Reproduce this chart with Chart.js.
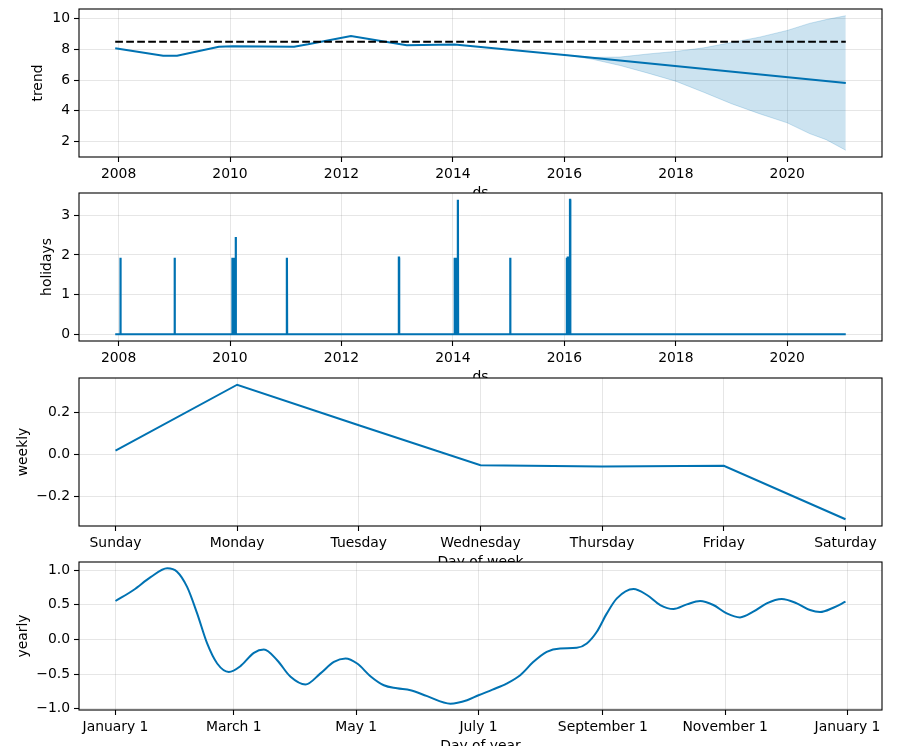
<!DOCTYPE html>
<html>
<head>
<meta charset="utf-8">
<script src="https://cdn.jsdelivr.net/npm/chart.js@4.4.1/dist/chart.umd.min.js"></script>
<style>
  html, body { margin: 0; padding: 0; background: #fff; }
  body { width: 900px; height: 746px; position: relative; overflow: hidden; }
  canvas { position: absolute; left: 0; }
</style>
</head>
<body>
<canvas id="trendChart" width="900" height="206" style="top:0px"></canvas>
<canvas id="holidaysChart" width="900" height="206" style="top:184px"></canvas>
<canvas id="weeklyChart" width="900" height="206" style="top:369px"></canvas>
<canvas id="yearlyChart" width="900" height="206" style="top:553px"></canvas>
<script>
// ---- trend (x in decimal years) ----
const trendYears  = [2007.94, 2008.8, 2009.05, 2009.8, 2010.05, 2011.15, 2011.4, 2012.17, 2013.17, 2014.03, 2016.05, 2021.05];
const trendValues = [8.08, 7.58, 7.58, 8.17, 8.2, 8.18, 8.33, 8.87, 8.27, 8.32, 7.62, 5.8];
const capYears  = [2007.94, 2021.05];
const capValues = [8.5, 8.5];
const bandYears = [2016.05, 2016.5, 2017.0, 2017.5, 2018.0, 2018.5, 2019.0, 2019.5, 2020.0, 2020.4, 2020.7, 2021.05];
const bandUpper = [7.62, 7.48, 7.5, 7.7, 7.87, 8.1, 8.45, 8.8, 9.24, 9.7, 9.95, 10.2];
const bandLower = [7.62, 7.36, 6.95, 6.45, 5.92, 5.2, 4.45, 3.8, 3.2, 2.5, 2.1, 1.41];
const yearTicks  = [2008, 2010, 2012, 2014, 2016, 2018, 2020];
const yearLabels = ['2008', '2010', '2012', '2014', '2016', '2018', '2020'];
const trendYTicks  = [2, 4, 6, 8, 10];
const trendYLabels = ['2', '4', '6', '8', '10'];

// ---- holidays ----
const holidayDates   = ['2008-01-13', '2009-01-03', '2010-01-16', '2010-01-24', '2010-02-07', '2011-01-08', '2013-01-12',
                        '2014-01-12', '2014-01-19', '2014-02-02', '2015-01-11', '2016-01-17', '2016-01-24', '2016-02-07'];
const holidayEffects = [1.93, 1.93, 1.93, 1.93, 2.45, 1.93, 1.93, 1.93, 1.93, 3.39, 1.93, 1.93, 1.93, 3.39];
const holidaySpan = [2007.94, 2021.05];
const holidayYTicks  = [0, 1, 2, 3];
const holidayYLabels = ['0', '1', '2', '3'];

// ---- weekly ----
const weekDays     = ['Sunday', 'Monday', 'Tuesday', 'Wednesday', 'Thursday', 'Friday', 'Saturday'];
const weeklyValues = [0.02, 0.333, 0.14, -0.05, -0.056, -0.053, -0.307];
const weeklyYTicks  = [-0.2, 0, 0.2];
const weeklyYLabels = ['\u22120.2', '0.0', '0.2'];

// ---- yearly (x = day of year) ----
const yearDays = [0, 9, 17.5, 25.8, 30.7, 35.7, 40.7, 45.7, 50.7, 56.5, 62.3, 69, 74, 80.6, 87.3, 94.7, 102.2, 108.9,
                  114.7, 120.5, 127.1, 133.8, 140.4, 147.1, 155.4, 167, 175.3, 181, 188, 195, 201.8, 208.4, 215,
                  221.7, 230, 235, 240, 245, 250, 258.3, 265, 271.6, 278.2, 284.9, 291.5, 298.1, 304.8, 311.4,
                  318, 324.7, 332.2, 339.7, 346.3, 351.3, 357.9, 364];
const yearlyValues = [0.556, 0.715, 0.9, 1.03, 0.98, 0.76, 0.377, -0.058, -0.348, -0.47, -0.386, -0.193, -0.145, -0.3,
                      -0.54, -0.652, -0.49, -0.324, -0.275, -0.348, -0.531, -0.662, -0.705, -0.734, -0.82, -0.928,
                      -0.879, -0.807, -0.725, -0.638, -0.517, -0.324, -0.179, -0.13, -0.121, -0.058, 0.111, 0.377,
                      0.594, 0.729, 0.643, 0.498, 0.44, 0.507, 0.556, 0.498, 0.377, 0.319, 0.401, 0.522, 0.585,
                      0.522, 0.425, 0.396, 0.459, 0.546];
const monthTicks  = [0, 59, 120, 181, 243, 304, 365];
const monthLabels = ['January 1', 'March 1', 'May 1', 'July 1', 'September 1', 'November 1', 'January 1'];
const yearlyYTicks  = [-1, -0.5, 0, 0.5, 1];
const yearlyYLabels = ['\u22121.0', '\u22120.5', '0.0', '0.5', '1.0'];

const BLUE = '#0072B2';
const BAND = 'rgba(0,114,178,0.2)';

Chart.defaults.font.family = "'DejaVu Sans', sans-serif";
Chart.defaults.font.size = 13.9;
Chart.defaults.color = '#000';

function decYear(s) {
  const d = Date.parse(s + 'T00:00:00Z');
  const y = new Date(d).getUTCFullYear();
  const a = Date.UTC(y, 0, 1), b = Date.UTC(y + 1, 0, 1);
  return y + (d - a) / (b - a);
}
const pts = (xs, ys) => xs.map((x, i) => ({ x: x, y: ys[i] }));

// white axes background + black box, like matplotlib
const frame = {
  id: 'frame',
  beforeDraw(chart) {
    const a = chart.chartArea, c = chart.ctx;
    c.save();
    c.fillStyle = '#fff';
    c.fillRect(a.left, a.top, a.right - a.left, a.bottom - a.top);
    c.restore();
  },
  afterDraw(chart) {
    const a = chart.chartArea, c = chart.ctx;
    c.save();
    c.strokeStyle = '#000';
    c.lineWidth = 1.1;
    c.strokeRect(a.left, a.top, a.right - a.left, a.bottom - a.top);
    c.restore();
  }
};

function axis(which, min, max, ticks, labels, title, width) {
  return {
    type: 'linear', min: min, max: max, bounds: 'data',
    afterBuildTicks: s => { s.ticks = ticks.map(v => ({ value: v })); },
    afterFit: s => {
      if (which === 'x') { s.height = 49; s.paddingLeft = 0; s.paddingRight = 0; }
      else { s.width = width; s.paddingTop = 0; s.paddingBottom = 0; }
    },
    ticks: { autoSkip: false, maxRotation: 0, minRotation: 0, padding: 4, color: '#000',
             callback: (v, i) => labels[i] },
    grid: { color: 'rgba(128,128,128,0.2)', lineWidth: 1, tickLength: 5, tickColor: '#000', tickWidth: 1.1 },
    border: { display: false },
    title: { display: true, text: title, color: '#000', padding: { top: 4, bottom: 4 } }
  };
}

function panel(id, o) {
  return new Chart(document.getElementById(id), {
    type: 'line',
    data: { datasets: o.datasets },
    options: {
      responsive: false,
      animation: false,
      layout: { padding: { left: o.padLeft, right: 18, top: 9, bottom: 0 } },
      plugins: { legend: { display: false }, tooltip: { enabled: false } },
      elements: { point: { radius: 0 }, line: { borderWidth: 2, tension: 0 } },
      scales: {
        x: axis('x', o.x[0], o.x[1], o.xTicks, o.xLabels, o.xTitle),
        y: axis('y', o.y[0], o.y[1], o.yTicks, o.yLabels, o.yTitle, 79 - o.padLeft)
      }
    },
    plugins: [frame]
  });
}

// trend
panel('trendChart', {
  padLeft: 26,
  x: [2007.29, 2021.7], xTicks: yearTicks, xLabels: yearLabels, xTitle: 'ds',
  y: [0.97, 10.64], yTicks: trendYTicks, yLabels: trendYLabels, yTitle: 'trend',
  datasets: [
    { data: pts(capYears, capValues), borderColor: '#000', borderDash: [7.7, 3.3], fill: false },
    { data: pts(trendYears, trendValues), borderColor: BLUE, fill: false },
    { data: pts(bandYears, bandLower), borderColor: BAND, borderWidth: 1, fill: false },
    { data: pts(bandYears, bandUpper), borderColor: BAND, borderWidth: 1, backgroundColor: BAND, fill: '-1' }
  ]
});

// holidays: each holiday covers its day and the day after
const DAY = 1 / 365.25;
const holidayPoints = [{ x: holidaySpan[0], y: 0 }];
holidayDates.forEach((d, i) => {
  const t = decYear(d);
  holidayPoints.push({ x: t - DAY, y: 0 }, { x: t, y: holidayEffects[i] },
                     { x: t + DAY, y: holidayEffects[i] }, { x: t + 2 * DAY, y: 0 });
});
holidayPoints.push({ x: holidaySpan[1], y: 0 });

panel('holidaysChart', {
  padLeft: 35,
  x: [2007.29, 2021.7], xTicks: yearTicks, xLabels: yearLabels, xTitle: 'ds',
  y: [-0.17, 3.56], yTicks: holidayYTicks, yLabels: holidayYLabels, yTitle: 'holidays',
  datasets: [{ data: holidayPoints, borderColor: BLUE, borderWidth: 2.2, fill: false }]
});

// weekly
panel('weeklyChart', {
  padLeft: 11,
  x: [-0.3, 6.3], xTicks: weekDays.map((d, i) => i), xLabels: weekDays, xTitle: 'Day of week',
  y: [-0.339, 0.365], yTicks: weeklyYTicks, yLabels: weeklyYLabels, yTitle: 'weekly',
  datasets: [{ data: weeklyValues.map((v, i) => ({ x: i, y: v })), borderColor: BLUE, fill: false }]
});

// yearly
panel('yearlyChart', {
  padLeft: 11,
  x: [-18.2, 382.2], xTicks: monthTicks, xLabels: monthLabels, xTitle: 'Day of year',
  y: [-1.02, 1.12], yTicks: yearlyYTicks, yLabels: yearlyYLabels, yTitle: 'yearly',
  datasets: [{ data: pts(yearDays, yearlyValues), borderColor: BLUE, fill: false, cubicInterpolationMode: 'monotone' }]
});
</script>
</body>
</html>
